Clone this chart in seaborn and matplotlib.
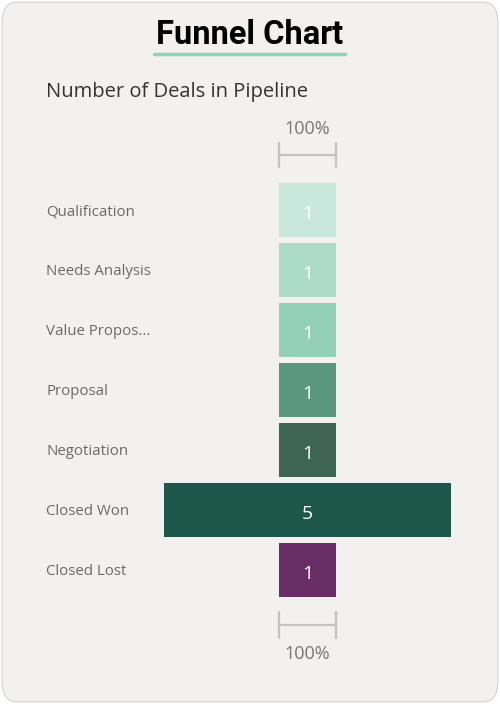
import matplotlib
matplotlib.use('Agg')
import matplotlib.pyplot as plt
import seaborn as sns
import numpy as np
import pandas as pd
from matplotlib.patches import FancyBboxPatch

# Data
stages = ['Qualification', 'Needs Analysis', 'Value Propos...', 'Proposal',
          'Negotiation', 'Closed Won', 'Closed Lost']
deals = [1, 1, 1, 1, 1, 5, 1]
stage_colors = ['#c9e7dd', '#acdcc8', '#93cfb6', '#5a9680',
                '#3d6455', '#1d564a', '#682d65']
top_pct = '100%'
bottom_pct = '100%'

df = pd.DataFrame({'stage': stages, 'deals': deals})
df['half'] = df['deals'] / 2

sns.set_theme(style='white')
plt.rcParams['font.family'] = ['Open Sans', 'DejaVu Sans']

fig = plt.figure(figsize=(5, 7.04), dpi=100)
fig.patch.set_facecolor('white')

# card background
card = FancyBboxPatch((0.004, 0.003), 0.992, 0.994,
                      boxstyle='round,pad=0,rounding_size=0.03',
                      transform=fig.transFigure, facecolor='#f2f1ef',
                      edgecolor='#d4d4d4', linewidth=0.8, zorder=-5)
fig.patches.append(card)

ax = fig.add_axes([0, 0, 1, 1])
ax.set_zorder(2)
ax.patch.set_alpha(0)

# funnel: symmetric bars around 0
palette = dict(zip(stages, stage_colors))
for sign in (1, -1):
    sns.barplot(x=sign * df['half'], y=df['stage'], hue=df['stage'],
                palette=palette, orient='h', width=0.9, legend=False,
                saturation=1, linewidth=0, ax=ax)

px = 57.4  # pixels per unit
cx = 307.5
ax.set_xlim(-cx / px, (500 - cx) / px)
ax.set_ylim(6 + (704 - 570) / 60, -210 / 60)
ax.axis('off')

x_left = (46 - cx) / px
for i, (s, v) in enumerate(zip(stages, deals)):
    ax.text(x_left, i + 0.03, s, ha='left', va='center', fontsize=10.8, color='#6a6a6a')
    ax.text(0, i + 0.06, str(v), ha='center', va='center', fontsize=14, color='white')

# brackets
half1 = deals[0] / 2
grey = '#c3c3c3'
y_top = (155 - 210) / 60
ax.plot([-half1, half1], [y_top, y_top], color=grey, lw=1.6)
for xx in (-half1, half1):
    ax.plot([xx, xx], [y_top - 0.2, y_top + 0.2], color=grey, lw=1.6)
ax.text(0, (129 - 210) / 60, top_pct, ha='center', va='center', fontsize=13, color='#777777')

y_bot = (625 - 210) / 60
ax.plot([-half1, half1], [y_bot, y_bot], color=grey, lw=1.6)
for xx in (-half1, half1):
    ax.plot([xx, xx], [y_bot - 0.22, y_bot + 0.22], color=grey, lw=1.6)
ax.text(0, (654 - 210) / 60, bottom_pct, ha='center', va='center', fontsize=13, color='#777777')

# titles
fig.text(0.5, 1 - 35 / 704, 'Funnel Chart', ha='center', va='center',
         fontsize=23.5, fontweight='bold', family='Roboto', color='black')
fig.lines.append(plt.Line2D([154 / 500, 345 / 500], [1 - 54 / 704, 1 - 54 / 704],
                            transform=fig.transFigure, color='#8fd3bd', lw=2.5))
fig.text(46 / 500, 1 - 92 / 704, 'Number of Deals in Pipeline', ha='left', va='center',
         fontsize=14.5, color='#333333')

fig.savefig('out.png', dpi=100, facecolor=fig.get_facecolor())
